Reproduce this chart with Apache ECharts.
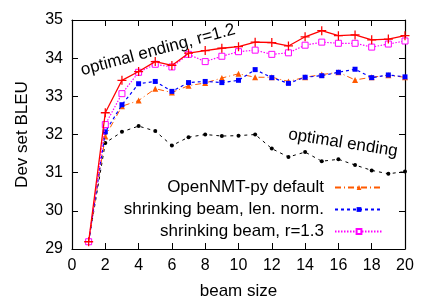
<!DOCTYPE html>
<html><head><meta charset="utf-8">
<script src="https://cdn.jsdelivr.net/npm/echarts@6/dist/echarts.min.js"></script>
<style>html,body{margin:0;padding:0;background:#fff}#c{width:436px;height:305px}</style>
</head><body><div id="c"></div>
<script>
const beamSizes = [1,2,3,4,5,6,7,8,9,10,11,12,13,14,15,16,17,18,19,20];
const openNMT = [29.19,31.95,32.74,32.89,33.20,33.10,33.28,33.35,33.48,33.59,33.50,33.50,33.39,33.50,33.57,33.63,33.43,33.50,33.55,33.50];
const lenNorm = [29.19,32.07,32.78,33.33,33.39,33.13,33.36,33.39,33.36,33.42,33.70,33.49,33.34,33.50,33.54,33.63,33.71,33.49,33.56,33.51];
const r13 = [29.19,32.26,33.07,33.63,33.84,33.77,34.10,33.91,34.05,34.17,34.21,34.10,34.14,34.34,34.42,34.39,34.39,34.29,34.37,34.45];
const r12 = [29.19,32.57,33.42,33.65,33.91,33.81,34.13,34.20,34.26,34.30,34.42,34.41,34.32,34.56,34.72,34.59,34.61,34.48,34.50,34.59];
const optimal = [29.19,31.78,32.07,32.22,32.09,31.71,31.93,32.00,31.96,31.97,32.00,31.63,31.41,31.54,31.30,31.35,31.20,31.06,30.97,31.03];
const yTicks = [29,30,31,32,33,34,35];
const xTicks = [0,2,4,6,8,10,12,14,16,18,20];
const names = ['OpenNMT-py default','shrinking beam, len. norm.','shrinking beam, r=1.3'];

const font = 'Liberation Sans, Arial, sans-serif';
const pair = a => a.map((v,i)=>[beamSizes[i], v]);
const plus = 'path://M4.3,0H5.7V4.3H10V5.7H5.7V10H4.3V5.7H0V4.3H4.3Z';

const chart = echarts.init(document.getElementById('c'), null, {renderer:'canvas'});
const axisCommon = {
  axisLine:{show:true, onZero:false, lineStyle:{color:'#000', width:1.2}},
  axisTick:{show:true, inside:true, length:6, lineStyle:{color:'#000', width:1}},
  splitLine:{show:false}
};
chart.setOption({
  animation:false,
  grid:{left:72, right:31, top:20, bottom:55, containLabel:false},
  xAxis:[
    Object.assign({type:'value', min:0, max:20, interval:2, position:'bottom',
      name:'beam size', nameLocation:'middle', nameGap:34,
      nameTextStyle:{fontFamily:font, fontSize:17, color:'#000'},
      axisLabel:{fontFamily:font, fontSize:16, color:'#000', margin:9,
        formatter:v=>xTicks.includes(v)?String(v):''}}, axisCommon),
    Object.assign({type:'value', min:0, max:20, interval:2, position:'top',
      axisLabel:{show:false}}, axisCommon)
  ],
  yAxis:[
    Object.assign({type:'value', min:29, max:35, interval:1, position:'left',
      name:'Dev set BLEU', nameLocation:'middle', nameGap:41,
      nameTextStyle:{fontFamily:font, fontSize:17, color:'#000'},
      axisLabel:{fontFamily:font, fontSize:16, color:'#000', margin:9,
        formatter:v=>yTicks.includes(v)?String(v):''}}, axisCommon),
    Object.assign({type:'value', min:29, max:35, interval:1, position:'right',
      axisLabel:{show:false}}, axisCommon)
  ],
  legend:{
    orient:'vertical', right:52, top:179, itemGap:5, itemWidth:48, itemHeight:6,
    align:'right', padding:0,
    textStyle:{fontFamily:font, fontSize:17, color:'#000', lineHeight:17, padding:[0,6,0,0]},
    data:names
  },
  series:[
    {name:'optimal ending', type:'line', data:pair(optimal), symbol:'circle', symbolSize:4,
      itemStyle:{color:'#000'}, lineStyle:{color:'#000', width:1, type:[3,4]}, z:2},
    {name:names[0], type:'line', data:pair(openNMT), symbol:'triangle', symbolSize:6,
      itemStyle:{color:'#ff5a00'}, lineStyle:{color:'#ff5a00', width:1, type:[6,3,1,3]}, z:3},
    {name:names[1], type:'line', data:pair(lenNorm), symbol:'rect', symbolSize:5,
      itemStyle:{color:'#0000ff'}, lineStyle:{color:'#0000ff', width:1.2, type:[3,3]}, z:4},
    {name:names[2], type:'line', data:pair(r13), symbol:'rect', symbolSize:6,
      itemStyle:{color:'#fff', borderColor:'#ff00ff', borderWidth:1},
      lineStyle:{color:'#ff00ff', width:1.2, type:[1.5,1.5]}, z:5},
    {name:'optimal ending, r=1.2', type:'line', data:pair(r12), symbol:plus, symbolSize:9,
      itemStyle:{color:'#ff0000'}, lineStyle:{color:'#ff0000', width:1.3, type:'solid'}, z:6}
  ],
  graphic:[
    {type:'text', x:158, y:50, rotation:15*Math.PI/180,
      style:{text:'optimal ending, r=1.2', font:'17px '+font, fill:'#000', textAlign:'center', textVerticalAlign:'middle'}},
    {type:'text', x:343, y:143, rotation:-9*Math.PI/180,
      style:{text:'optimal ending', font:'17px '+font, fill:'#000', textAlign:'center', textVerticalAlign:'middle'}}
  ]
});
</script></body></html>
